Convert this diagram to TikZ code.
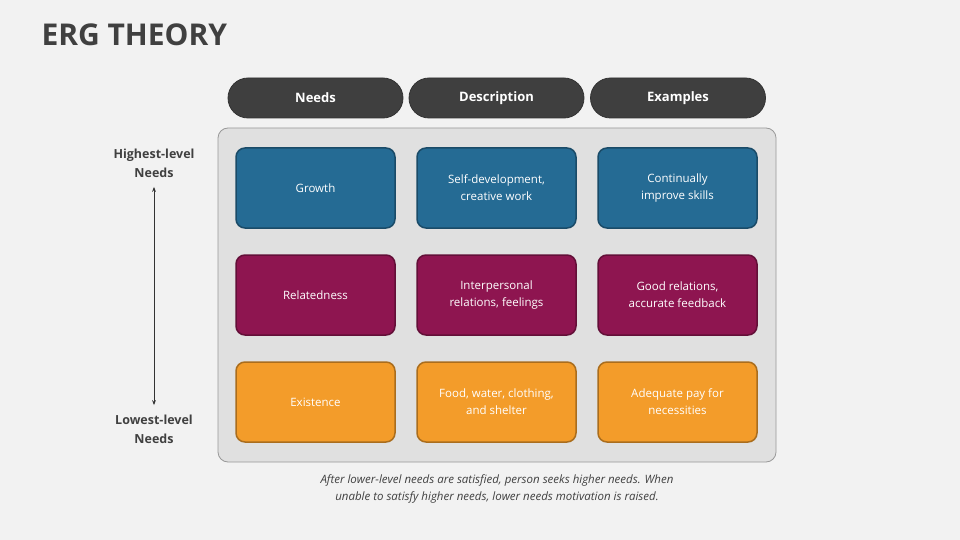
\documentclass[tikz,border=0pt]{standalone}
\usepackage{fontspec}
\setmainfont{Open Sans}
\usetikzlibrary{arrows.meta,calc}
\definecolor{bg}{HTML}{F2F2F2}
\definecolor{dk}{HTML}{404040}
\definecolor{pill}{HTML}{3F3F3F}
\definecolor{bl}{HTML}{256B94}
\definecolor{mr}{HTML}{8E1550}
\definecolor{og}{HTML}{F39C2A}
\tikzset{
 pillbox/.style={draw=black!80,line width=0.8pt,fill=pill,rounded corners=20pt,minimum width=175pt,minimum height=40pt,text=white,font=\bfseries\fontsize{13}{15}\selectfont},
 cell/.style={draw=#1!70!black,line width=1.5pt,fill=#1,rounded corners=9pt,minimum width=159pt,minimum height=80pt,text=white,align=center,font=\fontsize{11.5}{17}\selectfont},
 side/.style={text=dk,align=center,font=\bfseries\fontsize{12.5}{19}\selectfont}
}
\begin{document}
\begin{tikzpicture}[x=1pt,y=-1pt]
\fill[bg] (0,0) rectangle (960,540);
\useasboundingbox (0,0) rectangle (960,540);
\node[anchor=west,text=dk,font=\bfseries\fontsize{30}{34}\selectfont] (title) at (38,35) {ERG THEORY};
\node[pillbox] (h1) at (315.5,98) {Needs};
\node[pillbox] (h2) at (496.5,98) {Description};
\node[pillbox] (h3) at (678,98) {Examples};
\node[draw=black!40,fill=black!12,rounded corners=10pt,minimum width=558pt,minimum height=334pt,line width=0.8pt] (panel) at (497,295) {};
\node[cell=bl] (g1) at (315.5,188) {Growth};
\node[cell=bl] (g2) at (496.5,188) {Self-development,\\creative work};
\node[cell=bl] (g3) at (677.5,188) {Continually\\improve skills};
\node[cell=mr] (r1) at (315.5,295) {Relatedness};
\node[cell=mr] (r2) at (496.5,295) {Interpersonal\\relations, feelings};
\node[cell=mr] (r3) at (677.5,295) {Good relations,\\accurate feedback};
\node[cell=og] (e1) at (315.5,402) {Existence};
\node[cell=og] (e2) at (496.5,402) {Food, water, clothing,\\and shelter};
\node[cell=og] (e3) at (677.5,402) {Adequate pay for\\necessities};
\node[side] (hi) at (154,163) {Highest-level\\Needs};
\node[side] (lo) at (154,429) {Lowest-level\\Needs};
\coordinate (a) at ($(hi.south)+(0,6)$);
\coordinate (b) at ($(lo.north)+(0,-6)$);
\draw[{Stealth[length=5pt]}-{Stealth[length=5pt]},line width=0.9pt,black!80] (a) -- (b);
\node[text=dk,align=center,font=\itshape\fontsize{11.5}{17}\selectfont] (cap) at (497,489) {After lower-level needs are satisfied, person seeks higher needs. When\\unable to satisfy higher needs, lower needs motivation is raised.};
\end{tikzpicture}
\end{document}
